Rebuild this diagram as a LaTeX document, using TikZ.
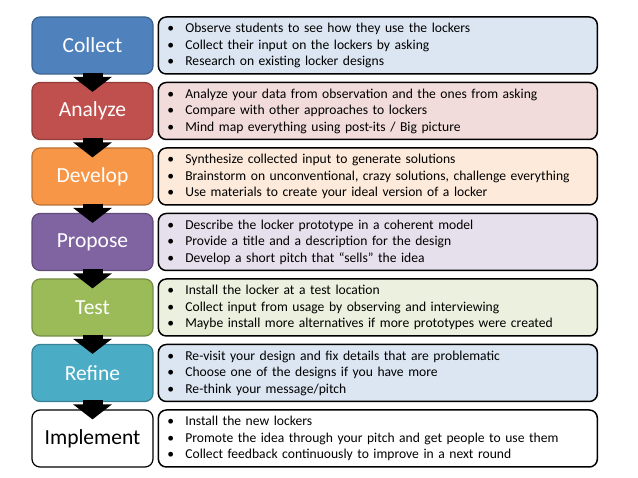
\documentclass[tikz,border=0pt]{standalone}
\usepackage{fontspec}
\setmainfont{Carlito}
\usetikzlibrary{arrows.meta,positioning}

\definecolor{cblue}{HTML}{4F81BD}
\definecolor{cred}{HTML}{C0504D}
\definecolor{corange}{HTML}{F79646}
\definecolor{cpurple}{HTML}{8064A2}
\definecolor{cgreen}{HTML}{9BBB59}
\definecolor{caqua}{HTML}{4BACC6}
\definecolor{lblue}{HTML}{DCE6F2}
\definecolor{lred}{HTML}{F2DCDB}
\definecolor{lorange}{HTML}{FDEADA}
\definecolor{lpurple}{HTML}{E6E0EC}
\definecolor{lgreen}{HTML}{EBF1DE}

\newcommand{\pt}[1]{\makebox[18pt][l]{\textbullet}#1}

\begin{document}
\begin{tikzpicture}[x=1pt, y=-1pt,
    stage/.style={draw=#1!75!black, fill=#1, rounded corners=8pt, line width=1.2pt,
      minimum width=121pt, minimum height=57pt, text=white,
      font=\fontsize{21.5}{24}\selectfont},
    notes/.style={draw=black, fill=#1, rounded corners=8pt, line width=1.5pt,
      minimum height=57pt, text width=421pt, inner xsep=9pt, align=left,
      font=\fontsize{13.6}{16.5}\selectfont},
    flow/.style={line width=20pt, -{Triangle[width=38pt, length=15pt]}}]
  \useasboundingbox (0,0) rectangle (638,478);

  % stages
  \node[stage=cblue]   (collect)   at (92.5,45.5)  {Collect};
  \node[stage=cred]    (analyze)   at (92.5,111)   {Analyze};
  \node[stage=corange] (develop)   at (92.5,176.5) {Develop};
  \node[stage=cpurple] (propose)   at (92.5,242)   {Propose};
  \node[stage=cgreen]  (test)      at (92.5,307.5) {Test};
  \node[stage=caqua]   (refine)    at (92.5,373)   {Refine};
  \node[stage=white, draw=black, text=black] (implement) at (92.5,438.5) {Implement};

  % descriptions
  \node[notes=lblue, right=4pt of collect] (collect-txt)
    {\pt{Observe students to see how they use the lockers}\\
     \pt{Collect their input on the lockers by asking}\\
     \pt{Research on existing locker designs}};
  \node[notes=lred, right=4pt of analyze] (analyze-txt)
    {\pt{Analyze your data from observation and the ones from asking}\\
     \pt{Compare with other approaches to lockers}\\
     \pt{Mind map everything using post-its / Big picture}};
  \node[notes=lorange, right=4pt of develop] (develop-txt)
    {\pt{Synthesize collected input to generate solutions}\\
     \pt{Brainstorm on unconventional, crazy solutions, challenge everything}\\
     \pt{Use materials to create your ideal version of a locker}};
  \node[notes=lpurple, right=4pt of propose] (propose-txt)
    {\pt{Describe the locker prototype in a coherent model}\\
     \pt{Provide a title and a description for the design}\\
     \pt{Develop a short pitch that “sells” the idea}};
  \node[notes=lgreen, right=4pt of test] (test-txt)
    {\pt{Install the locker at a test location}\\
     \pt{Collect input from usage by observing and interviewing}\\
     \pt{Maybe install more alternatives if more prototypes were created}};
  \node[notes=lblue, right=4pt of refine] (refine-txt)
    {\pt{Re-visit your design and fix details that are problematic}\\
     \pt{Choose one of the designs if you have more}\\
     \pt{Re-think your message/pitch}};
  \node[notes=white, right=4pt of implement] (implement-txt)
    {\pt{Install the new lockers}\\
     \pt{Promote the idea through your pitch and get people to use them}\\
     \pt{Collect feedback continuously to improve in a next round}};

  % arrows between stages
  \draw[flow] ([yshift=2pt]collect.south) -- ([yshift=-10pt]analyze.north);
  \draw[flow] ([yshift=2pt]analyze.south) -- ([yshift=-10pt]develop.north);
  \draw[flow] ([yshift=2pt]develop.south) -- ([yshift=-10pt]propose.north);
  \draw[flow] ([yshift=2pt]propose.south) -- ([yshift=-10pt]test.north);
  \draw[flow] ([yshift=2pt]test.south) -- ([yshift=-10pt]refine.north);
  \draw[flow] ([yshift=2pt]refine.south) -- ([yshift=-10pt]implement.north);
\end{tikzpicture}
\end{document}
